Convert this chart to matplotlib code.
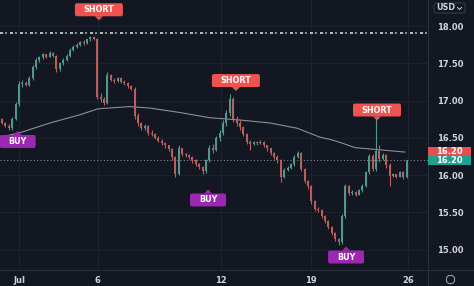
import numpy as np
import matplotlib
matplotlib.use('Agg')
from matplotlib import pyplot as plt
from matplotlib.patches import FancyBboxPatch, Polygon, Rectangle
from matplotlib.transforms import IdentityTransform
from matplotlib.ticker import FormatStrFormatter

plt.rcParams['lines.scale_dashes'] = False

# candles, one per bar (open, high, low, close)
opens = [16.75, 16.70, 16.66, 16.63, 16.76, 16.95, 17.22, 17.24, 17.21, 17.30,
         17.45, 17.55, 17.58, 17.62, 17.59, 17.64, 17.60, 17.42, 17.50, 17.55,
         17.60, 17.68, 17.72, 17.75, 17.78, 17.77, 17.82, 17.85, 17.83, 17.05,
         17.02, 16.97, 17.35, 17.28, 17.26, 17.30, 17.25, 17.23, 17.19, 17.16,
         16.80, 16.70, 16.63, 16.66, 16.57, 16.55, 16.50, 16.46, 16.43, 16.40,
         16.35, 16.24, 16.02, 16.36, 16.28, 16.27, 16.25, 16.20, 16.15, 16.11,
         16.05, 16.20, 16.36, 16.34, 16.50, 16.56, 16.70, 16.84, 17.02, 16.76,
         16.70, 16.64, 16.55, 16.45, 16.42, 16.44, 16.43, 16.45, 16.40, 16.36,
         16.30, 16.25, 16.20, 15.98, 16.07, 16.10, 16.15, 16.25, 16.30, 16.08,
         15.92, 15.85, 15.65, 15.55, 15.53, 15.45, 15.38, 15.30, 15.22, 15.14,
         15.10, 15.45, 15.85, 15.76, 15.78, 15.74, 15.80, 15.86, 16.04, 16.26,
         16.08, 16.32, 16.22, 16.27, 16.14, 15.99, 16.01, 15.98, 16.04, 15.97]
highs = [16.77, 16.72, 16.68, 16.78, 16.98, 17.26, 17.27, 17.26, 17.33, 17.48,
         17.57, 17.60, 17.64, 17.63, 17.66, 17.65, 17.61, 17.52, 17.57, 17.62,
         17.70, 17.74, 17.77, 17.80, 17.81, 17.83, 17.86, 17.87, 17.84, 17.10,
         17.05, 17.38, 17.36, 17.30, 17.32, 17.31, 17.28, 17.25, 17.21, 17.18,
         16.83, 16.72, 16.68, 16.67, 16.60, 16.56, 16.52, 16.48, 16.45, 16.41,
         16.36, 16.26, 16.40, 16.37, 16.30, 16.29, 16.26, 16.22, 16.17, 16.12,
         16.22, 16.40, 16.42, 16.52, 16.60, 16.74, 16.88, 17.09, 17.05, 16.80,
         16.74, 16.66, 16.57, 16.47, 16.46, 16.46, 16.47, 16.46, 16.41, 16.37,
         16.31, 16.27, 16.22, 16.09, 16.12, 16.17, 16.27, 16.32, 16.31, 16.10,
         15.94, 15.87, 15.67, 15.58, 15.55, 15.47, 15.40, 15.32, 15.24, 15.16,
         15.48, 15.88, 15.87, 15.80, 15.79, 15.82, 15.88, 16.06, 16.29, 16.28,
         16.79, 16.40, 16.30, 16.28, 16.16, 16.03, 16.02, 16.06, 16.05, 16.21]
lows = [16.68, 16.64, 16.60, 16.61, 16.74, 16.93, 17.18, 17.19, 17.20, 17.28,
        17.43, 17.52, 17.56, 17.57, 17.58, 17.58, 17.38, 17.40, 17.48, 17.53,
        17.58, 17.66, 17.70, 17.73, 17.74, 17.76, 17.80, 17.81, 17.02, 16.98,
        16.94, 16.95, 17.26, 17.24, 17.25, 17.24, 17.21, 17.17, 17.14, 16.75,
        16.66, 16.60, 16.61, 16.54, 16.52, 16.48, 16.44, 16.41, 16.37, 16.32,
        16.20, 15.97, 16.00, 16.26, 16.25, 16.22, 16.17, 16.12, 16.08, 16.02,
        16.03, 16.18, 16.30, 16.32, 16.46, 16.54, 16.66, 16.80, 16.72, 16.66,
        16.60, 16.52, 16.42, 16.34, 16.40, 16.41, 16.42, 16.38, 16.33, 16.27,
        16.22, 16.17, 15.91, 15.96, 16.05, 16.08, 16.13, 16.23, 16.05, 15.89,
        15.82, 15.62, 15.52, 15.50, 15.43, 15.36, 15.28, 15.20, 15.12, 15.06,
        15.08, 15.43, 15.73, 15.74, 15.72, 15.73, 15.78, 15.84, 16.02, 16.05,
        16.06, 16.18, 16.20, 16.10, 15.86, 15.97, 15.96, 15.97, 15.95, 15.96]
closes = [16.70, 16.66, 16.63, 16.76, 16.95, 17.22, 17.24, 17.21, 17.30, 17.45,
          17.55, 17.58, 17.62, 17.59, 17.64, 17.60, 17.42, 17.50, 17.55, 17.60,
          17.68, 17.72, 17.75, 17.78, 17.77, 17.82, 17.85, 17.83, 17.05, 17.02,
          16.97, 17.35, 17.28, 17.26, 17.30, 17.25, 17.23, 17.19, 17.16, 16.80,
          16.70, 16.63, 16.66, 16.57, 16.55, 16.50, 16.46, 16.43, 16.40, 16.35,
          16.24, 16.02, 16.36, 16.28, 16.27, 16.25, 16.20, 16.15, 16.11, 16.05,
          16.20, 16.36, 16.34, 16.50, 16.56, 16.70, 16.84, 17.02, 16.76, 16.70,
          16.64, 16.55, 16.45, 16.42, 16.44, 16.43, 16.45, 16.40, 16.36, 16.30,
          16.25, 16.20, 15.98, 16.07, 16.10, 16.15, 16.25, 16.30, 16.08, 15.92,
          15.85, 15.65, 15.55, 15.53, 15.45, 15.38, 15.30, 15.22, 15.14, 15.10,
          15.45, 15.85, 15.76, 15.78, 15.74, 15.80, 15.86, 16.04, 16.26, 16.08,
          16.32, 16.22, 16.27, 16.14, 15.99, 16.01, 15.98, 16.04, 15.97, 16.20]

# moving average, read at a few bars
ma_bar = [-0.6, 2.4, 5.3, 14.1, 22.9, 28.2, 37.6, 43.5, 52.4, 61.2, 70.0,
          78.8, 86.8, 93.5, 96.5, 99.4, 103.8, 111.2, 118.5]
ma_val = [16.51, 16.54, 16.57, 16.70, 16.81, 16.89, 16.92, 16.90, 16.84, 16.77,
          16.74, 16.70, 16.63, 16.51, 16.48, 16.44, 16.37, 16.34, 16.31]

resistance = 17.90
last_price = 16.20

date_ticks = [5.0, 28.2, 64.4, 90.9, 119.4]
date_labels = ['Jul', '6', '12', '19', '26']
price_ticks = [15.0, 15.5, 16.0, 16.5, 17.0, 17.5, 18.0]

# signal tags: text, label centre (bar, price)
sig_text = ['SHORT', 'SHORT', 'SHORT', 'BUY', 'BUY', 'BUY']
sig_x = [28.5, 68.8, 110.3, 4.6, 60.6, 101.2]
sig_y = [18.218, 17.269, 16.874, 16.452, 15.668, 14.903]

BG = '#131722'
UP = '#52978c'
DOWN = '#b95f5a'
TXT = '#d1d4dc'
GRID = '#1e222d'

W, H = 474, 286
fig = plt.figure(figsize=(W / 100, H / 100), dpi=100, facecolor=BG)
ax = fig.add_axes([0, 16 / H, 428 / W, 270 / H], facecolor=BG)
ax.set_xlim(-0.59, 125.3)
ax.set_ylim(14.729, 18.349)

for s in ax.spines.values():
    s.set_visible(False)
ax.set_xticks(date_ticks)
ax.set_xticklabels(date_labels)
ax.set_yticks(price_ticks)
ax.yaxis.set_major_formatter(FormatStrFormatter('%.2f'))
ax.yaxis.tick_right()
ax.tick_params(axis='both', length=0, labelcolor=TXT, labelsize=6)
ax.tick_params(axis='y', pad=6.5)
ax.tick_params(axis='x', pad=4.5)
for lbl in ax.get_xticklabels() + ax.get_yticklabels():
    lbl.set_fontweight('bold')
ax.grid(True, color=GRID, lw=0.8)
ax.set_axisbelow(True)

# candles
o = np.array(opens)
c = np.array(closes)
x = np.arange(len(o))
cols = [UP if cc >= oo else DOWN for oo, cc in zip(o, c)]
ax.vlines(x, lows, highs, colors=cols, lw=0.8, zorder=3)
body = np.maximum(np.abs(c - o), 0.012)
ax.bar(x, body, bottom=np.minimum(o, c), width=0.62, color=cols, lw=0, zorder=3)

ax.plot(ma_bar, ma_val, color='#8c8f97', lw=0.8, zorder=2)
# resistance: white dashes with small green ticks between
ax.axhline(resistance, color='#e3ebe5', lw=1.1, ls=(0, (2.2, 5.0)), zorder=2)
ax.axhline(resistance, color='#8fc9a9', lw=1.1, ls=(3.6, (1.4, 5.8)), zorder=2)
ax.axhline(last_price, color='#8a8d96', lw=0.7, ls=(0, (0.8, 1.6)), zorder=2)

# signal tags drawn in pixel space
idt = IdentityTransform()
for t, sx, sy in zip(sig_text, sig_x, sig_y):
    cx, cy = ax.transData.transform((sx, sy))
    color = '#ef5350' if t == 'SHORT' else '#9c27b0'
    w = 48 if t == 'SHORT' else 36
    h = 13
    fig.add_artist(FancyBboxPatch((cx - w / 2, cy - h / 2), w, h,
                                  boxstyle='round,pad=0,rounding_size=2',
                                  fc=color, ec='none', transform=idt, zorder=5))
    if t == 'SHORT':
        tri = [(cx - 4, cy - h / 2), (cx + 4, cy - h / 2), (cx, cy - h / 2 - 4)]
    else:
        tri = [(cx - 4, cy + h / 2), (cx + 4, cy + h / 2), (cx, cy + h / 2 + 4)]
    fig.add_artist(Polygon(tri, closed=True, fc=color, ec='none',
                           transform=idt, zorder=5))
    fig.text(cx, cy, t, transform=idt, ha='center', va='center',
             color='white', fontsize=5.8, fontweight='bold', zorder=6)

# last price tags on the price scale
ly = ax.transData.transform((0, last_price))[1]
for dy, color in [(9, '#e2514f'), (0, '#22a08f')]:
    fig.add_artist(Rectangle((428, ly + dy - 4.5), 43, 9, fc=color, ec='none',
                             transform=idt, zorder=5))
    fig.text(449.5, ly + dy, '16.20', transform=idt, ha='center', va='center',
             color='white', fontsize=6, fontweight='bold', zorder=6)

# scale separators
fig.add_artist(plt.Line2D([428, 428], [0, H], color='#2a2e39', lw=0.8, transform=idt))
fig.add_artist(plt.Line2D([0, W], [16, 16], color='#2a2e39', lw=0.8, transform=idt))

# currency box and settings icon
fig.add_artist(FancyBboxPatch((434, H - 13), 31, 10, boxstyle='round,pad=0,rounding_size=2',
                              fc=BG, ec='#363a45', lw=0.8, transform=idt))
fig.text(445.5, H - 8, 'USD', transform=idt, ha='center', va='center',
         color=TXT, fontsize=5.8, fontweight='bold')
fig.add_artist(plt.Line2D([457.5, 459.5, 461.5], [H - 7.5, H - 9.5, H - 7.5],
                          color=TXT, lw=0.7, transform=idt))
fig.add_artist(plt.Line2D([450], [7], marker='8', ms=6, mfc='none', mec='#9598a1',
                          mew=0.8, transform=idt))

fig.savefig('out.png', dpi=100, facecolor=BG)
